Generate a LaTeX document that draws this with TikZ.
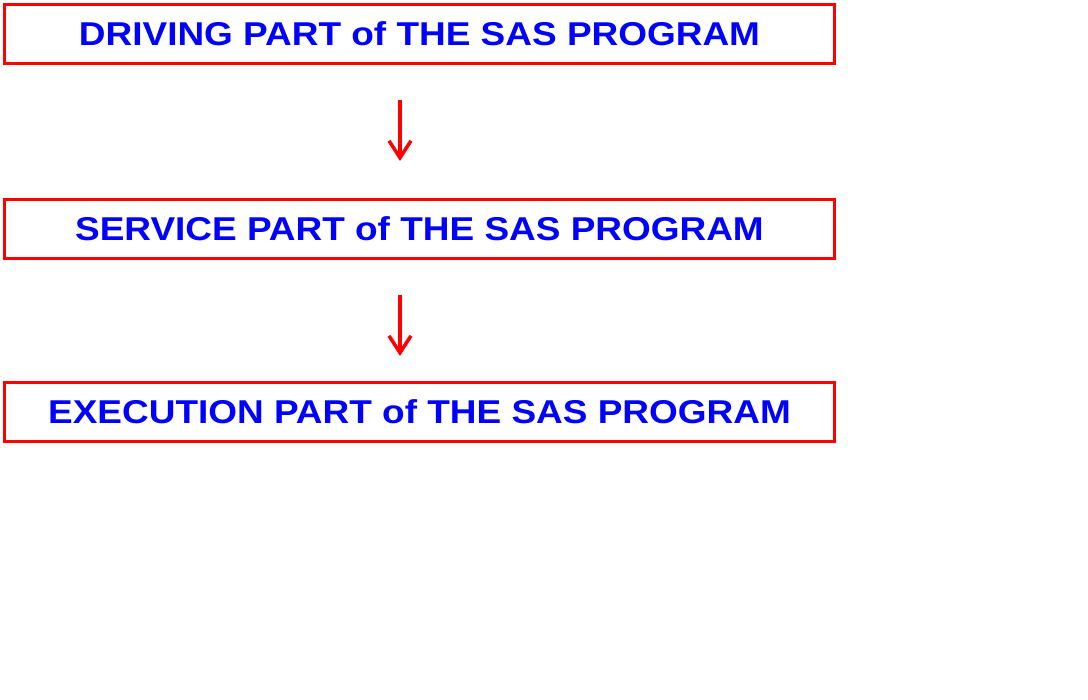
\documentclass[tikz,border=0pt]{standalone}
\usepackage{fontspec}
\setmainfont{Liberation Sans}
\newfontfamily\partfont[FakeStretch=1.12]{Liberation Sans}
\usepackage{xcolor}
\usetikzlibrary{arrows.meta, positioning}
\definecolor{boxred}{RGB}{255,0,0}
\definecolor{textblue}{RGB}{0,0,255}
\tikzset{
    base/.style={draw=boxred, line width=3pt, font=\partfont\fontsize{33}{38}\selectfont\bfseries, text=textblue, align=center},
    part/.style={base, rectangle, minimum width=830pt, minimum height=59pt, inner sep=0pt},
    line/.style={draw=boxred, line width=3.5pt, -{Straight Barb[length=17pt, width=22pt]}}
}

\begin{document}
\begin{tikzpicture}[x=1pt, y=1pt, node distance=133pt]
    \useasboundingbox (0,0) rectangle (1088,-700);
    \node [part] (Driving) at (419.5,-34) {DRIVING PART of THE SAS PROGRAM};
    \node [part, below=of Driving] (Service) {SERVICE PART of THE SAS PROGRAM};
    \node [part, below=121pt of Service] (Execution) {EXECUTION PART of THE SAS PROGRAM};

    \draw [line, shorten <=35pt, shorten >=37pt] ([xshift=-19.5pt]Driving.south) -- ([xshift=-19.5pt]Service.north);
    \draw [line, shorten <=35pt, shorten >=25pt] ([xshift=-19.5pt]Service.south) -- ([xshift=-19.5pt]Execution.north);
\end{tikzpicture}
\end{document}
